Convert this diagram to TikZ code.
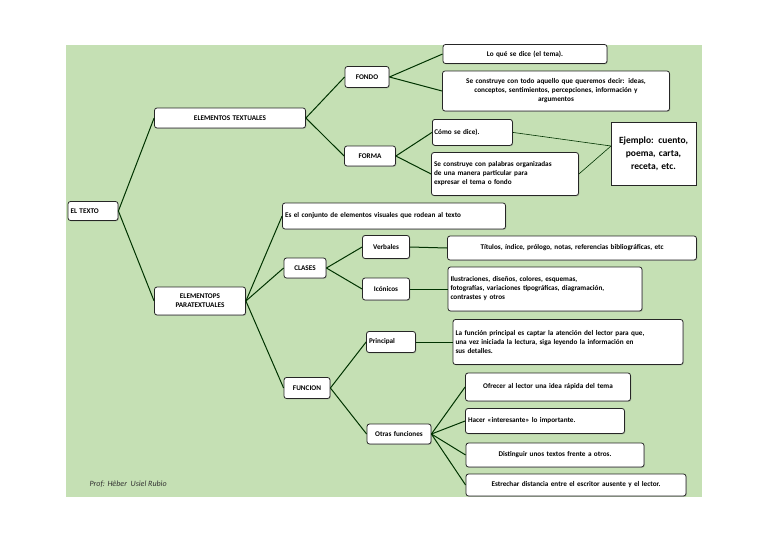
\documentclass[tikz,border=0pt]{standalone}
\usepackage{fontspec}
\setmainfont{Carlito}
\usetikzlibrary{shadows}
\definecolor{bg}{HTML}{C5E0B4}
\tikzset{
 b/.style={draw=black!85,fill=white,rounded corners=2.5pt,line width=0.8pt,font=\fontsize{7.2}{9}\selectfont\bfseries,inner sep=2pt,drop shadow={shadow xshift=0.8pt,shadow yshift=-0.8pt,opacity=0.4}},
 ln/.style={draw=black!80!green,line width=1pt},
 tl/.style={ln,line width=0.6pt}
}
\newcommand{\bx}[7]{\node[b,minimum width=#4pt,minimum height=#5pt,align=#6,text width=#4pt-5pt] (#1) at (#2pt,-#3pt) {#7};}
\begin{document}
\begin{tikzpicture}[x=1pt,y=1pt]
\useasboundingbox (0,0) rectangle (768,-544);
\fill[bg] (66,-45) rectangle (702,-497);
\bx{t}{93}{211}{50}{19}{left}{EL TEXTO}
\bx{et}{230}{118}{151}{20}{center}{ELEMENTOS TEXTUALES}
\bx{fo}{367}{77}{44}{21}{center}{FONDO}
\bx{fm}{370}{156}{51}{20}{center}{FORMA}
\bx{q}{525}{54}{164}{19}{center}{Lo qué se dice (el tema).}
\bx{sc}{556}{91}{227}{40}{center}{Se construye con todo aquello que queremos decir: ideas,\\ conceptos, sentimientos, percepciones, información y\\ argumentos}
\node[b,minimum width=80pt,minimum height=26pt,text width=76pt,align=left,anchor=north west] (co) at (432pt,-119pt) {Cómo se dice).\\[7pt]};
\bx{sp}{505}{174}{147}{43}{left}{Se construye con palabras organizadas\\ de una manera particular para\\ expresar el tema o fondo}
\node[b,minimum width=85pt,minimum height=63pt,text width=80pt,align=center,rounded corners=0pt,font=\fontsize{9.5}{13}\selectfont\bfseries] (ej) at (653.5pt,-153.5pt) {Ejemplo: cuento,\\ poema, carta,\\ receta, etc.};
\bx{pt}{200}{301}{91}{28}{center}{ELEMENTOPS\\ PARATEXTUALES}
\bx{ec}{394}{216}{223}{26}{left}{Es el conjunto de elementos visuales que rodean al texto}
\bx{cl}{305}{268}{42}{20}{center}{CLASES}
\bx{ve}{386}{247}{47}{23}{center}{Verbales}
\bx{ti}{572}{248}{249}{24}{center}{Títulos, índice, prólogo, notas, referencias bibliográficas, etc}
\bx{ic}{386}{289}{47}{22}{center}{Icónicos}
\bx{il}{545}{289}{194}{44}{left}{Ilustraciones, diseños, colores, esquemas,\\ fotografías, variaciones tipográficas, diagramación,\\ contrastes y otros}
\bx{pr}{391}{342}{49}{21}{left}{Principal}
\bx{lf}{568}{342}{230}{45}{left}{La función principal es captar la atención del lector para que,\\ una vez iniciada la lectura, siga leyendo la información en\\ sus detalles.}
\bx{fu}{307}{388}{46}{21}{center}{FUNCION}
\bx{ot}{399}{434}{64}{20}{center}{Otras funciones}
\bx{o1}{548}{387}{165}{28}{center}{Ofrecer al lector una idea rápida del tema}
\bx{o2}{545}{421}{159}{25}{left}{Hacer «interesante» lo importante.}
\bx{o3}{555}{455}{178}{24}{center}{Distinguir unos textos frente a otros.}
\bx{o4}{576}{485}{220}{22}{center}{Estrechar distancia entre el escritor ausente y el lector.}
\node[font=\fontsize{8}{9}\selectfont\itshape,text=black!80,anchor=west] (pf) at (86pt,-484pt) {Prof: Hêber\ \ Usiel Rubio};
\foreach \a/\c in {t/et,t/pt,et/fo,et/fm,fo/q,fo/sc,fm/co,fm/sp,pt/ec,pt/cl,pt/fu,cl/ve,cl/ic,ve/ti,ic/il,fu/pr,fu/ot,pr/lf,ot/o1,ot/o2,ot/o3,ot/o4}
  \draw[ln] (\a.east) -- (\c.west);
\coordinate (ejp) at (611pt,-146pt);
\draw[tl] (co.east) -- (ejp);
\draw[tl] (sp.east) -- (ejp);
\end{tikzpicture}
\end{document}
